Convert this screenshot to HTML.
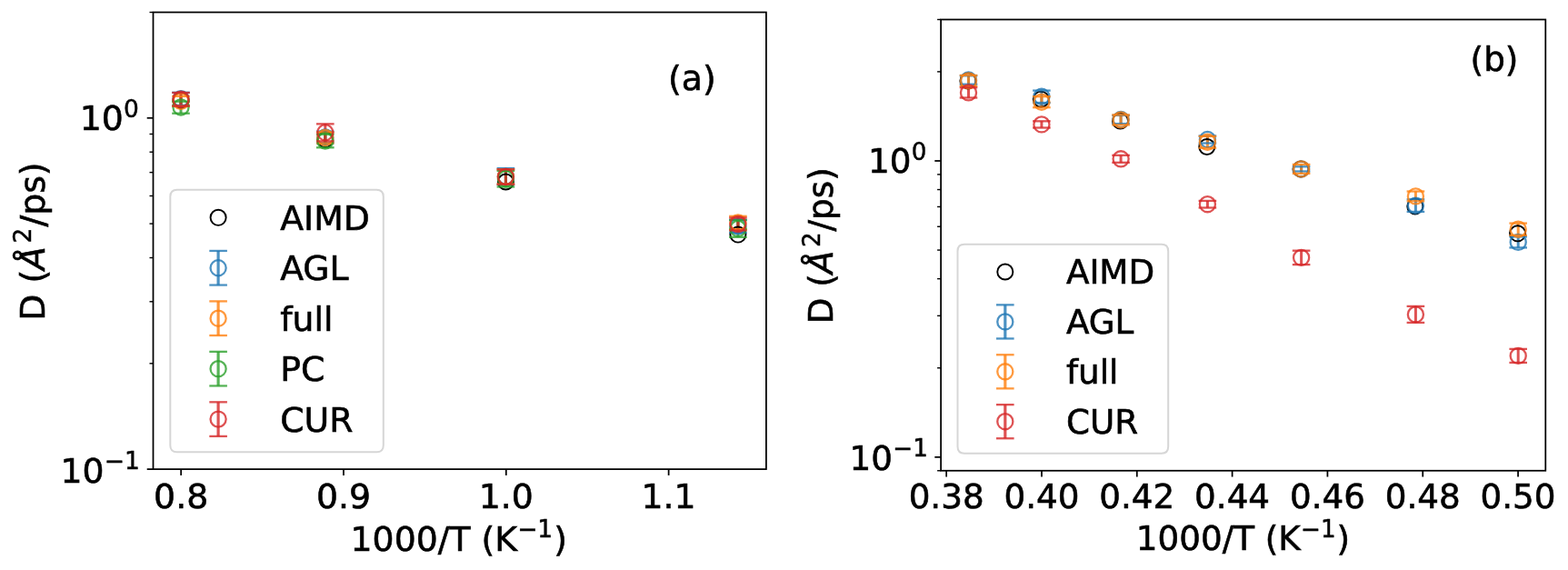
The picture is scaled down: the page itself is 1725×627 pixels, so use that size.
<!DOCTYPE html>
<html lang="en"><head><meta charset="utf-8"><title>Diffusion coefficients</title>
<style>html,body{margin:0;padding:0;background:#fff}svg{display:block;font-family:"DejaVu Sans", "Liberation Sans", sans-serif}text{fill:#000;stroke:#000;stroke-width:0.6px;stroke-linejoin:miter}</style></head>
<body>
<svg width="1725" height="627" viewBox="0 0 1725 627" role="img" aria-label="Diffusion coefficient D versus 1000/T, panels (a) and (b)">
<rect width="1725" height="627" fill="#fff"/>
<g id="panel-a">
<line x1="199.15" y1="516.1" x2="199.15" y2="522.9" stroke="#000" stroke-width="1.75"/>
<text x="199.15" y="558.6" font-size="37.77" text-anchor="middle">0.8</text>
<line x1="377.97" y1="516.1" x2="377.97" y2="522.9" stroke="#000" stroke-width="1.75"/>
<text x="377.97" y="558.6" font-size="37.77" text-anchor="middle">0.9</text>
<line x1="556.79" y1="516.1" x2="556.79" y2="522.9" stroke="#000" stroke-width="1.75"/>
<text x="556.79" y="558.6" font-size="37.77" text-anchor="middle">1.0</text>
<line x1="735.61" y1="516.1" x2="735.61" y2="522.9" stroke="#000" stroke-width="1.75"/>
<text x="735.61" y="558.6" font-size="37.77" text-anchor="middle">1.1</text>
<line x1="161.7" y1="129.79" x2="168.5" y2="129.79" stroke="#000" stroke-width="1.75"/>
<text x="87.67" y="143.19" font-size="37.77">10</text>
<text x="136.05" y="128.71" font-size="26.44" style="stroke-width:0.48px">0</text>
<line x1="161.7" y1="516.1" x2="168.5" y2="516.1" stroke="#000" stroke-width="1.75"/>
<text x="66.41" y="530.7" font-size="37.77">10</text>
<text x="114.79" y="516.22" font-size="26.44" style="stroke-width:0.48px">−1</text>
<line x1="164.5" y1="399.81" x2="168.5" y2="399.81" stroke="#000" stroke-width="1.4"/>
<line x1="164.5" y1="331.78" x2="168.5" y2="331.78" stroke="#000" stroke-width="1.4"/>
<line x1="164.5" y1="283.52" x2="168.5" y2="283.52" stroke="#000" stroke-width="1.4"/>
<line x1="164.5" y1="246.08" x2="168.5" y2="246.08" stroke="#000" stroke-width="1.4"/>
<line x1="164.5" y1="215.49" x2="168.5" y2="215.49" stroke="#000" stroke-width="1.4"/>
<line x1="164.5" y1="189.63" x2="168.5" y2="189.63" stroke="#000" stroke-width="1.4"/>
<line x1="164.5" y1="167.23" x2="168.5" y2="167.23" stroke="#000" stroke-width="1.4"/>
<line x1="164.5" y1="147.47" x2="168.5" y2="147.47" stroke="#000" stroke-width="1.4"/>
<line x1="164.5" y1="13.5" x2="168.5" y2="13.5" stroke="#000" stroke-width="1.4"/>
<rect x="168.5" y="13.5" width="674.4" height="502.6" fill="none" stroke="#000" stroke-width="1.75"/>
<line x1="199" y1="101.8" x2="199" y2="115.8" stroke="#1f77b4" stroke-width="3" stroke-opacity="0.8"/>
<line x1="357.8" y1="144.6" x2="357.8" y2="157.4" stroke="#1f77b4" stroke-width="3" stroke-opacity="0.8"/>
<line x1="556.4" y1="185.1" x2="556.4" y2="203.1" stroke="#1f77b4" stroke-width="3" stroke-opacity="0.8"/>
<line x1="811.9" y1="241.8" x2="811.9" y2="255.8" stroke="#1f77b4" stroke-width="3" stroke-opacity="0.8"/>
<line x1="199" y1="105.9" x2="199" y2="116.7" stroke="#ff7f0e" stroke-width="3" stroke-opacity="0.8"/>
<line x1="357.8" y1="145.5" x2="357.8" y2="157.5" stroke="#ff7f0e" stroke-width="3" stroke-opacity="0.8"/>
<line x1="556.4" y1="186.3" x2="556.4" y2="202.5" stroke="#ff7f0e" stroke-width="3" stroke-opacity="0.8"/>
<line x1="811.9" y1="237.8" x2="811.9" y2="252.2" stroke="#ff7f0e" stroke-width="3" stroke-opacity="0.8"/>
<line x1="199" y1="111.7" x2="199" y2="124.7" stroke="#2ca02c" stroke-width="3" stroke-opacity="0.8"/>
<line x1="357.8" y1="147.7" x2="357.8" y2="162.3" stroke="#2ca02c" stroke-width="3" stroke-opacity="0.8"/>
<line x1="556.4" y1="187.9" x2="556.4" y2="205.5" stroke="#2ca02c" stroke-width="3" stroke-opacity="0.8"/>
<line x1="811.9" y1="242.2" x2="811.9" y2="260.8" stroke="#2ca02c" stroke-width="3" stroke-opacity="0.8"/>
<line x1="199" y1="102" x2="199" y2="116.6" stroke="#d62728" stroke-width="3" stroke-opacity="0.8"/>
<line x1="357.8" y1="136.35" x2="357.8" y2="155.35" stroke="#d62728" stroke-width="3" stroke-opacity="0.8"/>
<line x1="556.4" y1="186.4" x2="556.4" y2="202.6" stroke="#d62728" stroke-width="3" stroke-opacity="0.8"/>
<line x1="811.9" y1="239.6" x2="811.9" y2="253.4" stroke="#d62728" stroke-width="3" stroke-opacity="0.8"/>
<circle cx="199" cy="110.4" r="8.55" fill="none" stroke="#000" stroke-width="1.9"/>
<circle cx="357.8" cy="153.5" r="8.55" fill="none" stroke="#000" stroke-width="1.9"/>
<circle cx="556.4" cy="200" r="8.55" fill="none" stroke="#000" stroke-width="1.9"/>
<circle cx="811.9" cy="258.1" r="8.55" fill="none" stroke="#000" stroke-width="1.9"/>
<circle cx="199" cy="108.8" r="8.55" fill="none" stroke="#1f77b4" stroke-width="2.3" stroke-opacity="0.8"/>
<line x1="189.2" y1="115.8" x2="208.8" y2="115.8" stroke="#1f77b4" stroke-width="2.3" stroke-opacity="0.8"/>
<line x1="189.2" y1="101.8" x2="208.8" y2="101.8" stroke="#1f77b4" stroke-width="2.3" stroke-opacity="0.8"/>
<circle cx="357.8" cy="151" r="8.55" fill="none" stroke="#1f77b4" stroke-width="2.3" stroke-opacity="0.8"/>
<line x1="348" y1="157.4" x2="367.6" y2="157.4" stroke="#1f77b4" stroke-width="2.3" stroke-opacity="0.8"/>
<line x1="348" y1="144.6" x2="367.6" y2="144.6" stroke="#1f77b4" stroke-width="2.3" stroke-opacity="0.8"/>
<circle cx="556.4" cy="194.1" r="8.55" fill="none" stroke="#1f77b4" stroke-width="2.3" stroke-opacity="0.8"/>
<line x1="546.6" y1="203.1" x2="566.2" y2="203.1" stroke="#1f77b4" stroke-width="2.3" stroke-opacity="0.8"/>
<line x1="546.6" y1="185.1" x2="566.2" y2="185.1" stroke="#1f77b4" stroke-width="2.3" stroke-opacity="0.8"/>
<circle cx="811.9" cy="248.8" r="8.55" fill="none" stroke="#1f77b4" stroke-width="2.3" stroke-opacity="0.8"/>
<line x1="802.1" y1="255.8" x2="821.7" y2="255.8" stroke="#1f77b4" stroke-width="2.3" stroke-opacity="0.8"/>
<line x1="802.1" y1="241.8" x2="821.7" y2="241.8" stroke="#1f77b4" stroke-width="2.3" stroke-opacity="0.8"/>
<circle cx="199" cy="111.3" r="8.55" fill="none" stroke="#ff7f0e" stroke-width="2.3" stroke-opacity="0.8"/>
<line x1="189.2" y1="116.7" x2="208.8" y2="116.7" stroke="#ff7f0e" stroke-width="2.3" stroke-opacity="0.8"/>
<line x1="189.2" y1="105.9" x2="208.8" y2="105.9" stroke="#ff7f0e" stroke-width="2.3" stroke-opacity="0.8"/>
<circle cx="357.8" cy="151.5" r="8.55" fill="none" stroke="#ff7f0e" stroke-width="2.3" stroke-opacity="0.8"/>
<line x1="348" y1="157.5" x2="367.6" y2="157.5" stroke="#ff7f0e" stroke-width="2.3" stroke-opacity="0.8"/>
<line x1="348" y1="145.5" x2="367.6" y2="145.5" stroke="#ff7f0e" stroke-width="2.3" stroke-opacity="0.8"/>
<circle cx="556.4" cy="194.4" r="8.55" fill="none" stroke="#ff7f0e" stroke-width="2.3" stroke-opacity="0.8"/>
<line x1="546.6" y1="202.5" x2="566.2" y2="202.5" stroke="#ff7f0e" stroke-width="2.3" stroke-opacity="0.8"/>
<line x1="546.6" y1="186.3" x2="566.2" y2="186.3" stroke="#ff7f0e" stroke-width="2.3" stroke-opacity="0.8"/>
<circle cx="811.9" cy="245" r="8.55" fill="none" stroke="#ff7f0e" stroke-width="2.3" stroke-opacity="0.8"/>
<line x1="802.1" y1="252.2" x2="821.7" y2="252.2" stroke="#ff7f0e" stroke-width="2.3" stroke-opacity="0.8"/>
<line x1="802.1" y1="237.8" x2="821.7" y2="237.8" stroke="#ff7f0e" stroke-width="2.3" stroke-opacity="0.8"/>
<circle cx="199" cy="118" r="8.55" fill="none" stroke="#2ca02c" stroke-width="2.3" stroke-opacity="0.8"/>
<line x1="189.2" y1="124.7" x2="208.8" y2="124.7" stroke="#2ca02c" stroke-width="2.3" stroke-opacity="0.8"/>
<line x1="189.2" y1="111.7" x2="208.8" y2="111.7" stroke="#2ca02c" stroke-width="2.3" stroke-opacity="0.8"/>
<circle cx="357.8" cy="155" r="8.55" fill="none" stroke="#2ca02c" stroke-width="2.3" stroke-opacity="0.8"/>
<line x1="348" y1="162.3" x2="367.6" y2="162.3" stroke="#2ca02c" stroke-width="2.3" stroke-opacity="0.8"/>
<line x1="348" y1="147.7" x2="367.6" y2="147.7" stroke="#2ca02c" stroke-width="2.3" stroke-opacity="0.8"/>
<circle cx="556.4" cy="196.7" r="8.55" fill="none" stroke="#2ca02c" stroke-width="2.3" stroke-opacity="0.8"/>
<line x1="546.6" y1="205.5" x2="566.2" y2="205.5" stroke="#2ca02c" stroke-width="2.3" stroke-opacity="0.8"/>
<line x1="546.6" y1="187.9" x2="566.2" y2="187.9" stroke="#2ca02c" stroke-width="2.3" stroke-opacity="0.8"/>
<circle cx="811.9" cy="251.5" r="8.55" fill="none" stroke="#2ca02c" stroke-width="2.3" stroke-opacity="0.8"/>
<line x1="802.1" y1="260.8" x2="821.7" y2="260.8" stroke="#2ca02c" stroke-width="2.3" stroke-opacity="0.8"/>
<line x1="802.1" y1="242.2" x2="821.7" y2="242.2" stroke="#2ca02c" stroke-width="2.3" stroke-opacity="0.8"/>
<circle cx="199" cy="109.2" r="8.55" fill="none" stroke="#d62728" stroke-width="2.3" stroke-opacity="0.8"/>
<line x1="189.2" y1="116.6" x2="208.8" y2="116.6" stroke="#d62728" stroke-width="2.3" stroke-opacity="0.8"/>
<line x1="189.2" y1="102" x2="208.8" y2="102" stroke="#d62728" stroke-width="2.3" stroke-opacity="0.8"/>
<circle cx="357.8" cy="145.75" r="8.55" fill="none" stroke="#d62728" stroke-width="2.3" stroke-opacity="0.8"/>
<line x1="348" y1="155.35" x2="367.6" y2="155.35" stroke="#d62728" stroke-width="2.3" stroke-opacity="0.8"/>
<line x1="348" y1="136.35" x2="367.6" y2="136.35" stroke="#d62728" stroke-width="2.3" stroke-opacity="0.8"/>
<circle cx="556.4" cy="194.5" r="8.55" fill="none" stroke="#d62728" stroke-width="2.3" stroke-opacity="0.8"/>
<line x1="546.6" y1="202.6" x2="566.2" y2="202.6" stroke="#d62728" stroke-width="2.3" stroke-opacity="0.8"/>
<line x1="546.6" y1="186.4" x2="566.2" y2="186.4" stroke="#d62728" stroke-width="2.3" stroke-opacity="0.8"/>
<circle cx="811.9" cy="246.5" r="8.55" fill="none" stroke="#d62728" stroke-width="2.3" stroke-opacity="0.8"/>
<line x1="802.1" y1="253.4" x2="821.7" y2="253.4" stroke="#d62728" stroke-width="2.3" stroke-opacity="0.8"/>
<line x1="802.1" y1="239.6" x2="821.7" y2="239.6" stroke="#d62728" stroke-width="2.3" stroke-opacity="0.8"/>
<text x="735" y="99.1" font-size="37.77">(a)</text>
<text x="385.6" y="605.9" font-size="37.77">1000/T (K</text>
<text x="569.21" y="590.72" font-size="26.44" style="stroke-width:0.48px">−1</text>
<text x="609.19" y="605.9" font-size="37.77">)</text>
<g transform="translate(48.6,352.7) rotate(-90)">
<text x="0" y="0" font-size="37.77">D (</text>
<text x="55.77" y="0" font-size="37.77" font-style="italic">Å</text>
<text x="85.31" y="-14.58" font-size="26.44" style="stroke-width:0.48px">2</text>
<text x="103.16" y="0" font-size="37.77">/ps)</text>
</g>
<path d="M194.85,208.8 L414.25,208.8 Q421.8,208.8 421.8,216.35 L421.8,489.65 Q421.8,497.2 414.25,497.2 L194.85,497.2 Q187.3,497.2 187.3,489.65 L187.3,216.35 Q187.3,208.8 194.85,208.8 Z" fill="#fff" fill-opacity="0.8" stroke="#ccc" stroke-opacity="0.8" stroke-width="2"/>
<circle cx="240.1" cy="239.3" r="8.55" fill="none" stroke="#000" stroke-width="1.9"/>
<text x="308.2" y="252.75" font-size="37.77">AIMD</text>
<line x1="240.1" y1="275.95" x2="240.1" y2="313.55" stroke="#1f77b4" stroke-width="3.2" stroke-opacity="0.8"/>
<circle cx="240.1" cy="294.75" r="8.55" fill="none" stroke="#1f77b4" stroke-width="2.3" stroke-opacity="0.8"/>
<line x1="230.3" y1="313.55" x2="249.9" y2="313.55" stroke="#1f77b4" stroke-width="2.3" stroke-opacity="0.8"/>
<line x1="230.3" y1="275.95" x2="249.9" y2="275.95" stroke="#1f77b4" stroke-width="2.3" stroke-opacity="0.8"/>
<text x="308.2" y="308.2" font-size="37.77">AGL</text>
<line x1="240.1" y1="331.4" x2="240.1" y2="369" stroke="#ff7f0e" stroke-width="3.2" stroke-opacity="0.8"/>
<circle cx="240.1" cy="350.2" r="8.55" fill="none" stroke="#ff7f0e" stroke-width="2.3" stroke-opacity="0.8"/>
<line x1="230.3" y1="369" x2="249.9" y2="369" stroke="#ff7f0e" stroke-width="2.3" stroke-opacity="0.8"/>
<line x1="230.3" y1="331.4" x2="249.9" y2="331.4" stroke="#ff7f0e" stroke-width="2.3" stroke-opacity="0.8"/>
<text x="308.2" y="363.65" font-size="37.77">full</text>
<line x1="240.1" y1="386.85" x2="240.1" y2="424.45" stroke="#2ca02c" stroke-width="3.2" stroke-opacity="0.8"/>
<circle cx="240.1" cy="405.65" r="8.55" fill="none" stroke="#2ca02c" stroke-width="2.3" stroke-opacity="0.8"/>
<line x1="230.3" y1="424.45" x2="249.9" y2="424.45" stroke="#2ca02c" stroke-width="2.3" stroke-opacity="0.8"/>
<line x1="230.3" y1="386.85" x2="249.9" y2="386.85" stroke="#2ca02c" stroke-width="2.3" stroke-opacity="0.8"/>
<text x="308.2" y="419.1" font-size="37.77">PC</text>
<line x1="240.1" y1="442.3" x2="240.1" y2="479.9" stroke="#d62728" stroke-width="3.2" stroke-opacity="0.8"/>
<circle cx="240.1" cy="461.1" r="8.55" fill="none" stroke="#d62728" stroke-width="2.3" stroke-opacity="0.8"/>
<line x1="230.3" y1="479.9" x2="249.9" y2="479.9" stroke="#d62728" stroke-width="2.3" stroke-opacity="0.8"/>
<line x1="230.3" y1="442.3" x2="249.9" y2="442.3" stroke="#d62728" stroke-width="2.3" stroke-opacity="0.8"/>
<text x="308.2" y="474.55" font-size="37.77">CUR</text>
</g>
<g id="panel-b">
<line x1="1041.15" y1="517.75" x2="1041.15" y2="524.55" stroke="#000" stroke-width="1.75"/>
<text x="1041.15" y="558.6" font-size="37.28" text-anchor="middle">0.38</text>
<line x1="1145.97" y1="517.75" x2="1145.97" y2="524.55" stroke="#000" stroke-width="1.75"/>
<text x="1145.97" y="558.6" font-size="37.28" text-anchor="middle">0.40</text>
<line x1="1250.79" y1="517.75" x2="1250.79" y2="524.55" stroke="#000" stroke-width="1.75"/>
<text x="1250.79" y="558.6" font-size="37.28" text-anchor="middle">0.42</text>
<line x1="1355.61" y1="517.75" x2="1355.61" y2="524.55" stroke="#000" stroke-width="1.75"/>
<text x="1355.61" y="558.6" font-size="37.28" text-anchor="middle">0.44</text>
<line x1="1460.42" y1="517.75" x2="1460.42" y2="524.55" stroke="#000" stroke-width="1.75"/>
<text x="1460.42" y="558.6" font-size="37.28" text-anchor="middle">0.46</text>
<line x1="1565.24" y1="517.75" x2="1565.24" y2="524.55" stroke="#000" stroke-width="1.75"/>
<text x="1565.24" y="558.6" font-size="37.28" text-anchor="middle">0.48</text>
<line x1="1670.06" y1="517.75" x2="1670.06" y2="524.55" stroke="#000" stroke-width="1.75"/>
<text x="1670.06" y="558.6" font-size="37.28" text-anchor="middle">0.50</text>
<line x1="1028.3" y1="176.98" x2="1035.1" y2="176.98" stroke="#000" stroke-width="1.75"/>
<text x="955.03" y="190.08" font-size="37.28">10</text>
<text x="1002.78" y="175.69" font-size="26.1" style="stroke-width:0.48px">0</text>
<line x1="1028.3" y1="502.84" x2="1035.1" y2="502.84" stroke="#000" stroke-width="1.75"/>
<text x="934.55" y="516.59" font-size="37.28">10</text>
<text x="982.3" y="502.2" font-size="26.1" style="stroke-width:0.48px">−1</text>
<line x1="1031.1" y1="517.75" x2="1035.1" y2="517.75" stroke="#000" stroke-width="1.4"/>
<line x1="1031.1" y1="404.74" x2="1035.1" y2="404.74" stroke="#000" stroke-width="1.4"/>
<line x1="1031.1" y1="347.36" x2="1035.1" y2="347.36" stroke="#000" stroke-width="1.4"/>
<line x1="1031.1" y1="306.65" x2="1035.1" y2="306.65" stroke="#000" stroke-width="1.4"/>
<line x1="1031.1" y1="275.07" x2="1035.1" y2="275.07" stroke="#000" stroke-width="1.4"/>
<line x1="1031.1" y1="249.27" x2="1035.1" y2="249.27" stroke="#000" stroke-width="1.4"/>
<line x1="1031.1" y1="227.45" x2="1035.1" y2="227.45" stroke="#000" stroke-width="1.4"/>
<line x1="1031.1" y1="208.56" x2="1035.1" y2="208.56" stroke="#000" stroke-width="1.4"/>
<line x1="1031.1" y1="191.89" x2="1035.1" y2="191.89" stroke="#000" stroke-width="1.4"/>
<line x1="1031.1" y1="78.88" x2="1035.1" y2="78.88" stroke="#000" stroke-width="1.4"/>
<line x1="1031.1" y1="21.5" x2="1035.1" y2="21.5" stroke="#000" stroke-width="1.4"/>
<rect x="1035.1" y="21.5" width="665.2" height="496.25" fill="none" stroke="#000" stroke-width="1.75"/>
<line x1="1065.5" y1="83.3" x2="1065.5" y2="92.7" stroke="#1f77b4" stroke-width="3" stroke-opacity="0.8"/>
<line x1="1145.9" y1="99.6" x2="1145.9" y2="113" stroke="#1f77b4" stroke-width="3" stroke-opacity="0.8"/>
<line x1="1233.1" y1="126.9" x2="1233.1" y2="136.1" stroke="#1f77b4" stroke-width="3" stroke-opacity="0.8"/>
<line x1="1328.4" y1="149.5" x2="1328.4" y2="157.5" stroke="#1f77b4" stroke-width="3" stroke-opacity="0.8"/>
<line x1="1431.6" y1="183.3" x2="1431.6" y2="188.5" stroke="#1f77b4" stroke-width="3" stroke-opacity="0.8"/>
<line x1="1557.4" y1="219.3" x2="1557.4" y2="232.9" stroke="#1f77b4" stroke-width="3" stroke-opacity="0.8"/>
<line x1="1670.2" y1="260.4" x2="1670.2" y2="272.4" stroke="#1f77b4" stroke-width="3" stroke-opacity="0.8"/>
<line x1="1065.5" y1="82.9" x2="1065.5" y2="94.9" stroke="#ff7f0e" stroke-width="3" stroke-opacity="0.8"/>
<line x1="1145.9" y1="106.2" x2="1145.9" y2="118.2" stroke="#ff7f0e" stroke-width="3" stroke-opacity="0.8"/>
<line x1="1233.1" y1="126.4" x2="1233.1" y2="137.4" stroke="#ff7f0e" stroke-width="3" stroke-opacity="0.8"/>
<line x1="1328.4" y1="149.9" x2="1328.4" y2="162.7" stroke="#ff7f0e" stroke-width="3" stroke-opacity="0.8"/>
<line x1="1431.6" y1="180.9" x2="1431.6" y2="190.9" stroke="#ff7f0e" stroke-width="3" stroke-opacity="0.8"/>
<line x1="1557.4" y1="210.5" x2="1557.4" y2="221.3" stroke="#ff7f0e" stroke-width="3" stroke-opacity="0.8"/>
<line x1="1670.2" y1="245.6" x2="1670.2" y2="258.8" stroke="#ff7f0e" stroke-width="3" stroke-opacity="0.8"/>
<line x1="1065.5" y1="96.3" x2="1065.5" y2="107.5" stroke="#d62728" stroke-width="3" stroke-opacity="0.8"/>
<line x1="1145.9" y1="133.3" x2="1145.9" y2="140.5" stroke="#d62728" stroke-width="3" stroke-opacity="0.8"/>
<line x1="1233.1" y1="170.8" x2="1233.1" y2="178.8" stroke="#d62728" stroke-width="3" stroke-opacity="0.8"/>
<line x1="1328.4" y1="220.9" x2="1328.4" y2="228.5" stroke="#d62728" stroke-width="3" stroke-opacity="0.8"/>
<line x1="1431.6" y1="275.7" x2="1431.6" y2="291.1" stroke="#d62728" stroke-width="3" stroke-opacity="0.8"/>
<line x1="1557.4" y1="336.9" x2="1557.4" y2="354.9" stroke="#d62728" stroke-width="3" stroke-opacity="0.8"/>
<line x1="1670.2" y1="383.9" x2="1670.2" y2="398.9" stroke="#d62728" stroke-width="3" stroke-opacity="0.8"/>
<circle cx="1064.9" cy="88.9" r="8.55" fill="none" stroke="#000" stroke-width="1.9"/>
<circle cx="1145.3" cy="109.2" r="8.55" fill="none" stroke="#000" stroke-width="1.9"/>
<circle cx="1232.5" cy="133" r="8.55" fill="none" stroke="#000" stroke-width="1.9"/>
<circle cx="1327.8" cy="161.5" r="8.55" fill="none" stroke="#000" stroke-width="1.9"/>
<circle cx="1431" cy="185.9" r="8.55" fill="none" stroke="#000" stroke-width="1.9"/>
<circle cx="1556.8" cy="226.9" r="8.55" fill="none" stroke="#000" stroke-width="1.9"/>
<circle cx="1669.6" cy="256.8" r="8.55" fill="none" stroke="#000" stroke-width="1.9"/>
<circle cx="1065.5" cy="88" r="8.55" fill="none" stroke="#1f77b4" stroke-width="2.3" stroke-opacity="0.8"/>
<line x1="1055.7" y1="92.7" x2="1075.3" y2="92.7" stroke="#1f77b4" stroke-width="2.3" stroke-opacity="0.8"/>
<line x1="1055.7" y1="83.3" x2="1075.3" y2="83.3" stroke="#1f77b4" stroke-width="2.3" stroke-opacity="0.8"/>
<circle cx="1145.9" cy="106.3" r="8.55" fill="none" stroke="#1f77b4" stroke-width="2.3" stroke-opacity="0.8"/>
<line x1="1136.1" y1="113" x2="1155.7" y2="113" stroke="#1f77b4" stroke-width="2.3" stroke-opacity="0.8"/>
<line x1="1136.1" y1="99.6" x2="1155.7" y2="99.6" stroke="#1f77b4" stroke-width="2.3" stroke-opacity="0.8"/>
<circle cx="1233.1" cy="131.5" r="8.55" fill="none" stroke="#1f77b4" stroke-width="2.3" stroke-opacity="0.8"/>
<line x1="1223.3" y1="136.1" x2="1242.9" y2="136.1" stroke="#1f77b4" stroke-width="2.3" stroke-opacity="0.8"/>
<line x1="1223.3" y1="126.9" x2="1242.9" y2="126.9" stroke="#1f77b4" stroke-width="2.3" stroke-opacity="0.8"/>
<circle cx="1328.4" cy="153.5" r="8.55" fill="none" stroke="#1f77b4" stroke-width="2.3" stroke-opacity="0.8"/>
<line x1="1318.6" y1="157.5" x2="1338.2" y2="157.5" stroke="#1f77b4" stroke-width="2.3" stroke-opacity="0.8"/>
<line x1="1318.6" y1="149.5" x2="1338.2" y2="149.5" stroke="#1f77b4" stroke-width="2.3" stroke-opacity="0.8"/>
<circle cx="1431.6" cy="185.9" r="8.55" fill="none" stroke="#1f77b4" stroke-width="2.3" stroke-opacity="0.8"/>
<line x1="1421.8" y1="188.5" x2="1441.4" y2="188.5" stroke="#1f77b4" stroke-width="2.3" stroke-opacity="0.8"/>
<line x1="1421.8" y1="183.3" x2="1441.4" y2="183.3" stroke="#1f77b4" stroke-width="2.3" stroke-opacity="0.8"/>
<circle cx="1557.4" cy="226.1" r="8.55" fill="none" stroke="#1f77b4" stroke-width="2.3" stroke-opacity="0.8"/>
<line x1="1547.6" y1="232.9" x2="1567.2" y2="232.9" stroke="#1f77b4" stroke-width="2.3" stroke-opacity="0.8"/>
<line x1="1547.6" y1="219.3" x2="1567.2" y2="219.3" stroke="#1f77b4" stroke-width="2.3" stroke-opacity="0.8"/>
<circle cx="1670.2" cy="266.4" r="8.55" fill="none" stroke="#1f77b4" stroke-width="2.3" stroke-opacity="0.8"/>
<line x1="1660.4" y1="272.4" x2="1680" y2="272.4" stroke="#1f77b4" stroke-width="2.3" stroke-opacity="0.8"/>
<line x1="1660.4" y1="260.4" x2="1680" y2="260.4" stroke="#1f77b4" stroke-width="2.3" stroke-opacity="0.8"/>
<circle cx="1065.5" cy="88.9" r="8.55" fill="none" stroke="#ff7f0e" stroke-width="2.3" stroke-opacity="0.8"/>
<line x1="1055.7" y1="94.9" x2="1075.3" y2="94.9" stroke="#ff7f0e" stroke-width="2.3" stroke-opacity="0.8"/>
<line x1="1055.7" y1="82.9" x2="1075.3" y2="82.9" stroke="#ff7f0e" stroke-width="2.3" stroke-opacity="0.8"/>
<circle cx="1145.9" cy="112.2" r="8.55" fill="none" stroke="#ff7f0e" stroke-width="2.3" stroke-opacity="0.8"/>
<line x1="1136.1" y1="118.2" x2="1155.7" y2="118.2" stroke="#ff7f0e" stroke-width="2.3" stroke-opacity="0.8"/>
<line x1="1136.1" y1="106.2" x2="1155.7" y2="106.2" stroke="#ff7f0e" stroke-width="2.3" stroke-opacity="0.8"/>
<circle cx="1233.1" cy="131.9" r="8.55" fill="none" stroke="#ff7f0e" stroke-width="2.3" stroke-opacity="0.8"/>
<line x1="1223.3" y1="137.4" x2="1242.9" y2="137.4" stroke="#ff7f0e" stroke-width="2.3" stroke-opacity="0.8"/>
<line x1="1223.3" y1="126.4" x2="1242.9" y2="126.4" stroke="#ff7f0e" stroke-width="2.3" stroke-opacity="0.8"/>
<circle cx="1328.4" cy="156.3" r="8.55" fill="none" stroke="#ff7f0e" stroke-width="2.3" stroke-opacity="0.8"/>
<line x1="1318.6" y1="162.7" x2="1338.2" y2="162.7" stroke="#ff7f0e" stroke-width="2.3" stroke-opacity="0.8"/>
<line x1="1318.6" y1="149.9" x2="1338.2" y2="149.9" stroke="#ff7f0e" stroke-width="2.3" stroke-opacity="0.8"/>
<circle cx="1431.6" cy="185.9" r="8.55" fill="none" stroke="#ff7f0e" stroke-width="2.3" stroke-opacity="0.8"/>
<line x1="1421.8" y1="190.9" x2="1441.4" y2="190.9" stroke="#ff7f0e" stroke-width="2.3" stroke-opacity="0.8"/>
<line x1="1421.8" y1="180.9" x2="1441.4" y2="180.9" stroke="#ff7f0e" stroke-width="2.3" stroke-opacity="0.8"/>
<circle cx="1557.4" cy="215.9" r="8.55" fill="none" stroke="#ff7f0e" stroke-width="2.3" stroke-opacity="0.8"/>
<line x1="1547.6" y1="221.3" x2="1567.2" y2="221.3" stroke="#ff7f0e" stroke-width="2.3" stroke-opacity="0.8"/>
<line x1="1547.6" y1="210.5" x2="1567.2" y2="210.5" stroke="#ff7f0e" stroke-width="2.3" stroke-opacity="0.8"/>
<circle cx="1670.2" cy="252.2" r="8.55" fill="none" stroke="#ff7f0e" stroke-width="2.3" stroke-opacity="0.8"/>
<line x1="1660.4" y1="258.8" x2="1680" y2="258.8" stroke="#ff7f0e" stroke-width="2.3" stroke-opacity="0.8"/>
<line x1="1660.4" y1="245.6" x2="1680" y2="245.6" stroke="#ff7f0e" stroke-width="2.3" stroke-opacity="0.8"/>
<circle cx="1065.5" cy="101.9" r="8.55" fill="none" stroke="#d62728" stroke-width="2.3" stroke-opacity="0.8"/>
<line x1="1055.7" y1="107.5" x2="1075.3" y2="107.5" stroke="#d62728" stroke-width="2.3" stroke-opacity="0.8"/>
<line x1="1055.7" y1="96.3" x2="1075.3" y2="96.3" stroke="#d62728" stroke-width="2.3" stroke-opacity="0.8"/>
<circle cx="1145.9" cy="136.9" r="8.55" fill="none" stroke="#d62728" stroke-width="2.3" stroke-opacity="0.8"/>
<line x1="1136.1" y1="140.5" x2="1155.7" y2="140.5" stroke="#d62728" stroke-width="2.3" stroke-opacity="0.8"/>
<line x1="1136.1" y1="133.3" x2="1155.7" y2="133.3" stroke="#d62728" stroke-width="2.3" stroke-opacity="0.8"/>
<circle cx="1233.1" cy="174.8" r="8.55" fill="none" stroke="#d62728" stroke-width="2.3" stroke-opacity="0.8"/>
<line x1="1223.3" y1="178.8" x2="1242.9" y2="178.8" stroke="#d62728" stroke-width="2.3" stroke-opacity="0.8"/>
<line x1="1223.3" y1="170.8" x2="1242.9" y2="170.8" stroke="#d62728" stroke-width="2.3" stroke-opacity="0.8"/>
<circle cx="1328.4" cy="224.7" r="8.55" fill="none" stroke="#d62728" stroke-width="2.3" stroke-opacity="0.8"/>
<line x1="1318.6" y1="228.5" x2="1338.2" y2="228.5" stroke="#d62728" stroke-width="2.3" stroke-opacity="0.8"/>
<line x1="1318.6" y1="220.9" x2="1338.2" y2="220.9" stroke="#d62728" stroke-width="2.3" stroke-opacity="0.8"/>
<circle cx="1431.6" cy="283.4" r="8.55" fill="none" stroke="#d62728" stroke-width="2.3" stroke-opacity="0.8"/>
<line x1="1421.8" y1="291.1" x2="1441.4" y2="291.1" stroke="#d62728" stroke-width="2.3" stroke-opacity="0.8"/>
<line x1="1421.8" y1="275.7" x2="1441.4" y2="275.7" stroke="#d62728" stroke-width="2.3" stroke-opacity="0.8"/>
<circle cx="1557.4" cy="345.9" r="8.55" fill="none" stroke="#d62728" stroke-width="2.3" stroke-opacity="0.8"/>
<line x1="1547.6" y1="354.9" x2="1567.2" y2="354.9" stroke="#d62728" stroke-width="2.3" stroke-opacity="0.8"/>
<line x1="1547.6" y1="336.9" x2="1567.2" y2="336.9" stroke="#d62728" stroke-width="2.3" stroke-opacity="0.8"/>
<circle cx="1670.2" cy="391.4" r="8.55" fill="none" stroke="#d62728" stroke-width="2.3" stroke-opacity="0.8"/>
<line x1="1660.4" y1="398.9" x2="1680" y2="398.9" stroke="#d62728" stroke-width="2.3" stroke-opacity="0.8"/>
<line x1="1660.4" y1="383.9" x2="1680" y2="383.9" stroke="#d62728" stroke-width="2.3" stroke-opacity="0.8"/>
<text x="1617.6" y="77.5" font-size="37.28">(b)</text>
<text x="1249.8" y="605.2" font-size="37.28">1000/T (K</text>
<text x="1431.03" y="590.81" font-size="26.1" style="stroke-width:0.48px">−1</text>
<text x="1470.48" y="605.2" font-size="37.28">)</text>
<g transform="translate(916.4,356.3) rotate(-90)">
<text x="0" y="0" font-size="37.28">D (</text>
<text x="55.05" y="0" font-size="37.28" font-style="italic">Å</text>
<text x="84.21" y="-14.39" font-size="26.1" style="stroke-width:0.48px">2</text>
<text x="101.82" y="0" font-size="37.28">/ps)</text>
</g>
<path d="M1060.96,268.8 L1277.74,268.8 Q1285.2,268.8 1285.2,276.26 L1285.2,491.34 Q1285.2,498.8 1277.74,498.8 L1060.96,498.8 Q1053.5,498.8 1053.5,491.34 L1053.5,276.26 Q1053.5,268.8 1060.96,268.8 Z" fill="#fff" fill-opacity="0.8" stroke="#ccc" stroke-opacity="0.8" stroke-width="2"/>
<circle cx="1105.8" cy="299" r="8.55" fill="none" stroke="#000" stroke-width="1.9"/>
<text x="1172.9" y="311.8" font-size="37.28">AIMD</text>
<line x1="1105.8" y1="335.35" x2="1105.8" y2="372.45" stroke="#1f77b4" stroke-width="3.2" stroke-opacity="0.8"/>
<circle cx="1105.8" cy="353.9" r="8.55" fill="none" stroke="#1f77b4" stroke-width="2.3" stroke-opacity="0.8"/>
<line x1="1096" y1="372.45" x2="1115.6" y2="372.45" stroke="#1f77b4" stroke-width="2.3" stroke-opacity="0.8"/>
<line x1="1096" y1="335.35" x2="1115.6" y2="335.35" stroke="#1f77b4" stroke-width="2.3" stroke-opacity="0.8"/>
<text x="1172.9" y="366.7" font-size="37.28">AGL</text>
<line x1="1105.8" y1="390.25" x2="1105.8" y2="427.35" stroke="#ff7f0e" stroke-width="3.2" stroke-opacity="0.8"/>
<circle cx="1105.8" cy="408.8" r="8.55" fill="none" stroke="#ff7f0e" stroke-width="2.3" stroke-opacity="0.8"/>
<line x1="1096" y1="427.35" x2="1115.6" y2="427.35" stroke="#ff7f0e" stroke-width="2.3" stroke-opacity="0.8"/>
<line x1="1096" y1="390.25" x2="1115.6" y2="390.25" stroke="#ff7f0e" stroke-width="2.3" stroke-opacity="0.8"/>
<text x="1172.9" y="421.6" font-size="37.28">full</text>
<line x1="1105.8" y1="445.15" x2="1105.8" y2="482.25" stroke="#d62728" stroke-width="3.2" stroke-opacity="0.8"/>
<circle cx="1105.8" cy="463.7" r="8.55" fill="none" stroke="#d62728" stroke-width="2.3" stroke-opacity="0.8"/>
<line x1="1096" y1="482.25" x2="1115.6" y2="482.25" stroke="#d62728" stroke-width="2.3" stroke-opacity="0.8"/>
<line x1="1096" y1="445.15" x2="1115.6" y2="445.15" stroke="#d62728" stroke-width="2.3" stroke-opacity="0.8"/>
<text x="1172.9" y="476.5" font-size="37.28">CUR</text>
</g>
</svg>
</body></html>
